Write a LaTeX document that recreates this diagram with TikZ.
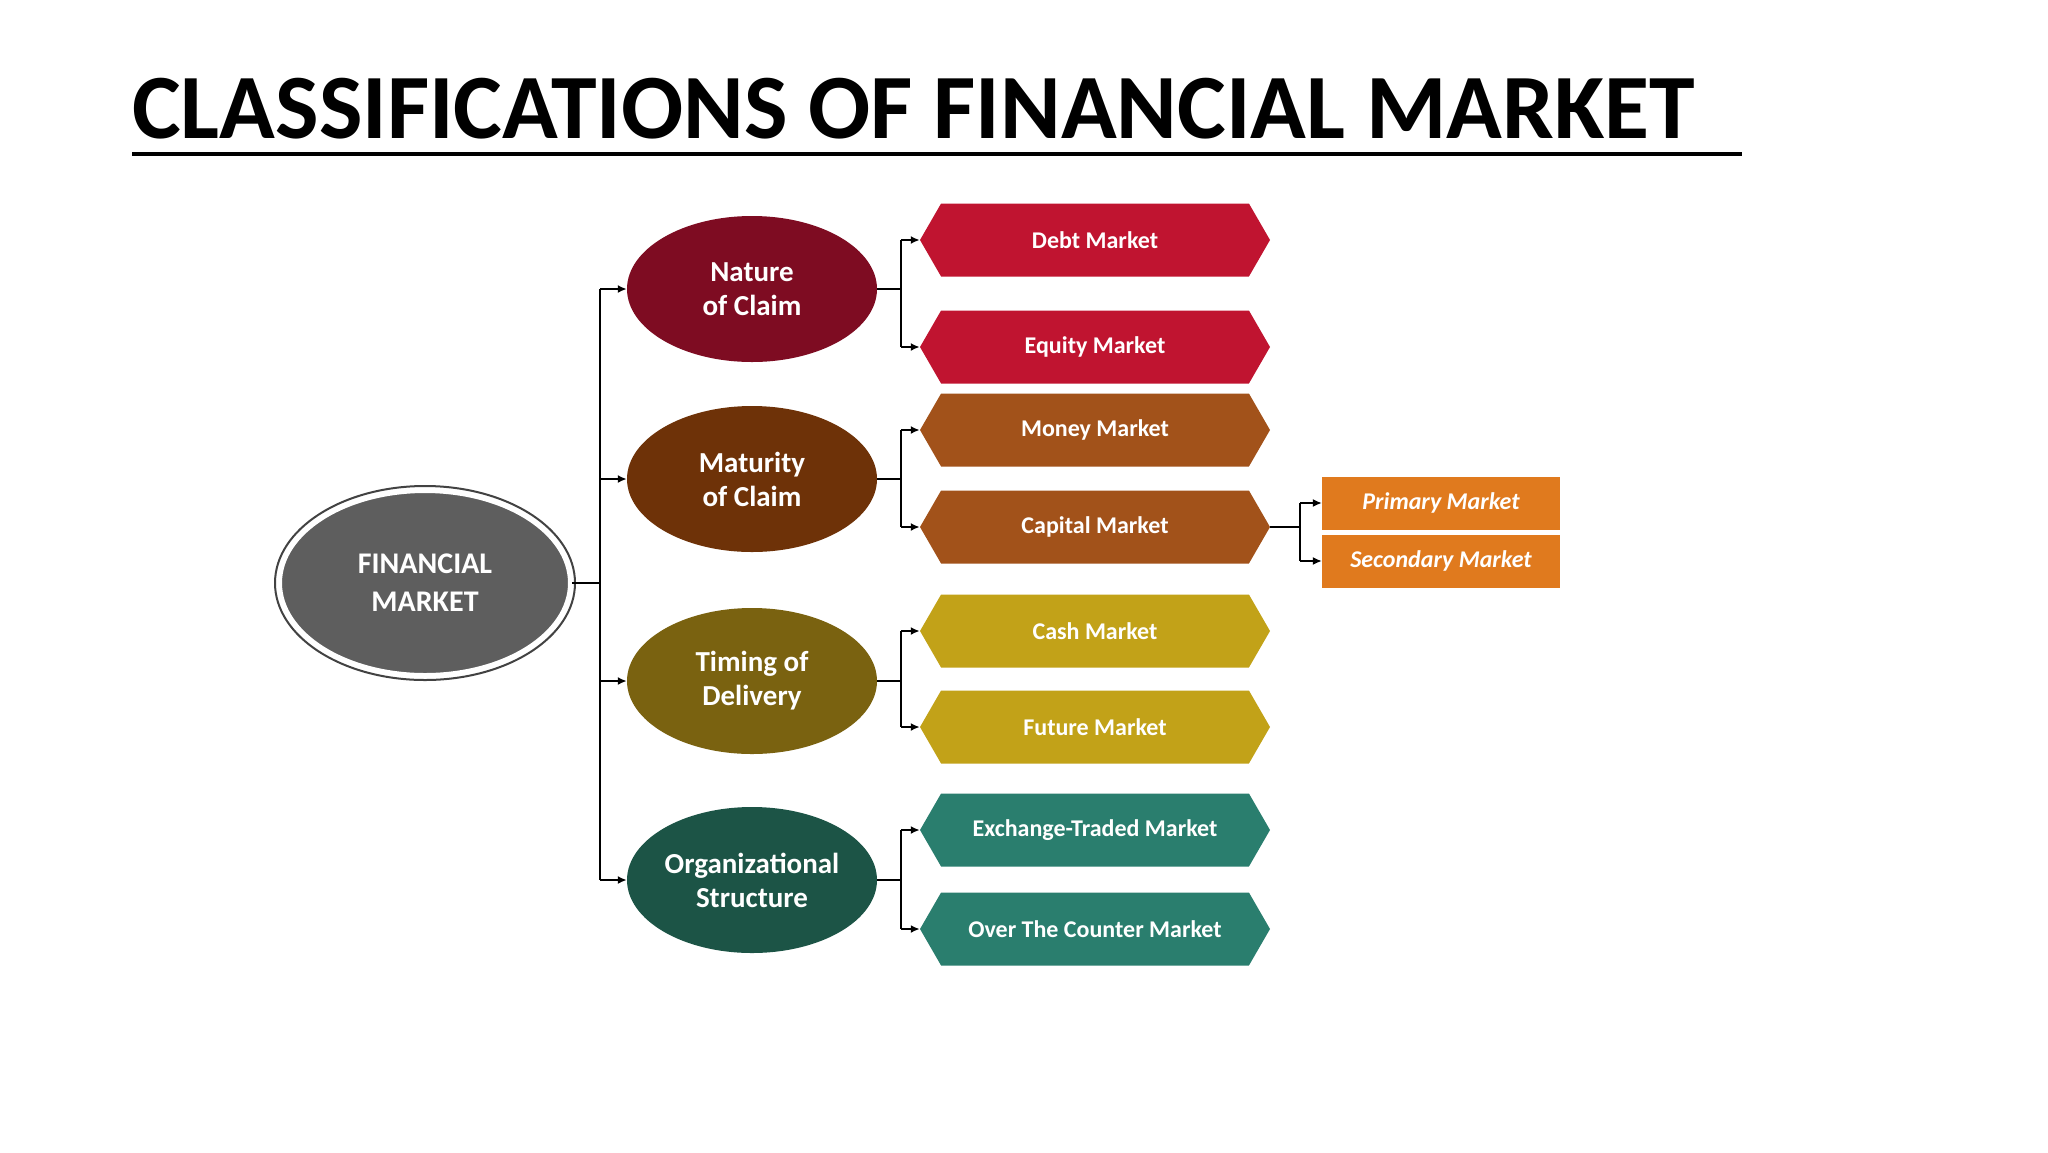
\documentclass[tikz,border=0pt]{standalone}
\usepackage{fontspec}
\setmainfont{Carlito}
\usetikzlibrary{shapes.geometric,shapes.symbols,arrows.meta}
\definecolor{cNat}{HTML}{7E0C22}\definecolor{cDebt}{HTML}{C01430}
\definecolor{cMat}{HTML}{6E3208}\definecolor{cMon}{HTML}{A2521A}
\definecolor{cTim}{HTML}{7A6210}\definecolor{cCash}{HTML}{C2A218}
\definecolor{cOrg}{HTML}{1C5446}\definecolor{cExc}{HTML}{2A7E6E}
\definecolor{cFin}{HTML}{5E5E5E}\definecolor{cPri}{HTML}{E07A1E}
\begin{document}
\begin{tikzpicture}[x=1pt,y=-1pt,
  ell/.style={ellipse,minimum width=250pt,minimum height=146pt,inner sep=0pt,text=white,font=\fontsize{29}{34}\selectfont\bfseries,align=center},
  hex/.style={signal,signal to=east and west,signal pointer angle=120,minimum width=350pt,minimum height=73pt,inner sep=0pt,text=white,font=\fontsize{24}{28}\selectfont\bfseries},
  sub/.style={rectangle,fill=cPri,minimum width=238pt,minimum height=53pt,inner sep=0pt,text=white,font=\fontsize{24}{28}\selectfont\bfseries\itshape},
  conn/.style={line width=2.2pt,-{Latex[length=9pt,width=8pt]}},
  ln/.style={line width=2.2pt}]
\useasboundingbox (0,0) rectangle (2048,1152);
\node[anchor=base west,font=\fontsize{92}{100}\selectfont\bfseries,inner sep=0pt] (title) at (132,138) {CLASSIFICATIONS OF FINANCIAL MARKET};
\draw[line width=4pt] (132,154) -- (1742,154);
\node[ellipse,minimum width=290pt,minimum height=184pt,fill=cFin,draw=white,line width=4pt,text=white,font=\fontsize{30}{38}\selectfont\bfseries,align=center] (fin) at (425,583) {FINANCIAL\\MARKET};
\draw[cFin!70!black,line width=2pt] (425,583) ellipse (150pt and 97pt);
\node[ell,fill=cNat] (e1) at (752,289) {Nature\\of Claim};
\node[ell,fill=cMat] (e2) at (752,479) {Maturity\\of Claim};
\node[ell,fill=cTim] (e3) at (752,681) {Timing of\\Delivery};
\node[ell,fill=cOrg] (e4) at (752,880) {Organizational\\Structure};
\coordinate (t1) at (600,289);\coordinate (t4) at (600,880);
\draw[ln] (fin.east) -- (600,583);
\draw[ln] (t1) -- (t4);
\foreach \e/\y in {e1/289,e2/479,e3/681,e4/880}{\draw[conn] (600,\y) -- (\e.west);}
\node[hex,fill=cDebt] (b1) at (1095,240) {Debt Market};
\node[hex,fill=cDebt] (b2) at (1095,347) {Equity Market};
\node[hex,fill=cMon] (b3) at (1095,430) {Money Market};
\node[hex,fill=cMon] (b4) at (1095,527) {Capital Market};
\node[hex,fill=cCash] (b5) at (1095,631) {Cash Market};
\node[hex,fill=cCash] (b6) at (1095,727) {Future Market};
\node[hex,fill=cExc] (b7) at (1095,830) {Exchange-Traded Market};
\node[hex,fill=cExc] (b8) at (1095,929) {Over The Counter Market};
\foreach \e/\a/\b in {e1/b1/b2,e2/b3/b4,e3/b5/b6,e4/b7/b8}{
  \draw[ln] (\e.east) -- (901,0|-\e.east);
  \draw[ln] (901,0|-\a.west) -- (901,0|-\b.west);
  \draw[conn] (901,0|-\a.west) -- (\a.west);
  \draw[conn] (901,0|-\b.west) -- (\b.west);}
\node[sub] (p1) at (1441,503) {Primary Market};
\node[sub] (p2) at (1441,561) {Secondary Market};
\draw[ln,line width=1.5pt] (b4.east) -- (1300,527);
\draw[ln,line width=1.5pt] (1300,503) -- (1300,561);
\draw[conn,line width=1.5pt] (1300,503) -- (p1.west);
\draw[conn,line width=1.5pt] (1300,561) -- (p2.west);
\end{tikzpicture}
\end{document}
